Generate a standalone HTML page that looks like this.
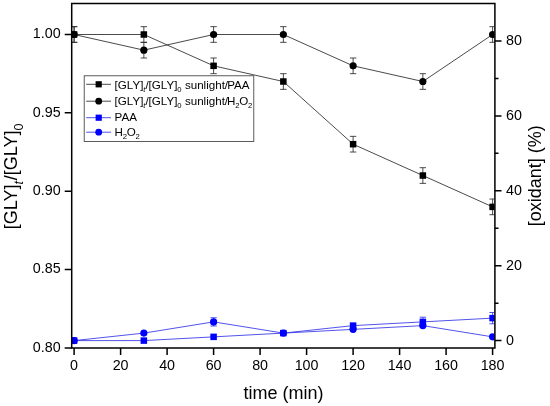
<!DOCTYPE html>
<html lang="en"><head><meta charset="utf-8"><title>Chart</title>
<style>html,body{margin:0;padding:0;background:#fff}body{width:550px;height:406px;overflow:hidden}</style></head>
<body>
<svg width="550" height="406" viewBox="0 0 550 406" style="display:block">
<rect width="550" height="406" fill="#fff"/>
<defs><clipPath id="c"><rect x="71.7" y="3.5" width="422.8" height="344.4"/></clipPath></defs>
<g clip-path="url(#c)">
<polyline points="74.10,340.60 143.85,340.60 213.60,336.86 283.35,333.11 353.10,325.62 422.85,321.88 492.60,318.13" fill="none" stroke="#3434e6" stroke-width="0.85"/>
<path d="M422.85,317.19V326.56M419.65,317.19H426.05M419.65,326.56H426.05" stroke="#3434e6" stroke-width="0.85" fill="none"/>
<path d="M492.60,312.51V323.75M489.40,312.51H495.80M489.40,323.75H495.80" stroke="#3434e6" stroke-width="0.85" fill="none"/>
<rect x="70.85" y="337.35" width="6.5" height="6.5" fill="#0000ff"/>
<rect x="140.60" y="337.35" width="6.5" height="6.5" fill="#0000ff"/>
<rect x="210.35" y="333.61" width="6.5" height="6.5" fill="#0000ff"/>
<rect x="280.10" y="329.86" width="6.5" height="6.5" fill="#0000ff"/>
<rect x="349.85" y="322.37" width="6.5" height="6.5" fill="#0000ff"/>
<rect x="419.60" y="318.62" width="6.5" height="6.5" fill="#0000ff"/>
<rect x="489.35" y="314.88" width="6.5" height="6.5" fill="#0000ff"/>
<polyline points="74.10,340.60 143.85,333.11 213.60,321.88 283.35,333.11 353.10,329.37 422.85,325.62 492.60,336.86" fill="none" stroke="#3434e6" stroke-width="0.85"/>
<path d="M213.60,317.76V325.99M210.40,317.76H216.80M210.40,325.99H216.80" stroke="#3434e6" stroke-width="0.85" fill="none"/>
<circle cx="74.10" cy="340.60" r="3.6" fill="#0000ff"/>
<circle cx="143.85" cy="333.11" r="3.6" fill="#0000ff"/>
<circle cx="213.60" cy="321.88" r="3.6" fill="#0000ff"/>
<circle cx="283.35" cy="333.11" r="3.6" fill="#0000ff"/>
<circle cx="353.10" cy="329.37" r="3.6" fill="#0000ff"/>
<circle cx="422.85" cy="325.62" r="3.6" fill="#0000ff"/>
<circle cx="492.60" cy="336.86" r="3.6" fill="#0000ff"/>
<polyline points="74.10,34.50 143.85,34.50 213.60,65.84 283.35,81.51 353.10,144.19 422.85,175.53 492.60,206.87" fill="none" stroke="#2a2a2a" stroke-width="0.85"/>
<path d="M74.10,26.67V42.34M70.90,26.67H77.30M70.90,42.34H77.30" stroke="#2a2a2a" stroke-width="0.85" fill="none"/>
<path d="M143.85,26.67V42.34M140.65,26.67H147.05M140.65,42.34H147.05" stroke="#2a2a2a" stroke-width="0.85" fill="none"/>
<path d="M213.60,58.01V73.68M210.40,58.01H216.80M210.40,73.68H216.80" stroke="#2a2a2a" stroke-width="0.85" fill="none"/>
<path d="M283.35,73.68V89.35M280.15,73.68H286.55M280.15,89.35H286.55" stroke="#2a2a2a" stroke-width="0.85" fill="none"/>
<path d="M353.10,136.35V152.02M349.90,136.35H356.30M349.90,152.02H356.30" stroke="#2a2a2a" stroke-width="0.85" fill="none"/>
<path d="M422.85,167.69V183.37M419.65,167.69H426.05M419.65,183.37H426.05" stroke="#2a2a2a" stroke-width="0.85" fill="none"/>
<path d="M492.60,199.04V214.71M489.40,199.04H495.80M489.40,214.71H495.80" stroke="#2a2a2a" stroke-width="0.85" fill="none"/>
<rect x="70.85" y="31.25" width="6.5" height="6.5" fill="#000"/>
<rect x="140.60" y="31.25" width="6.5" height="6.5" fill="#000"/>
<rect x="210.35" y="62.59" width="6.5" height="6.5" fill="#000"/>
<rect x="280.10" y="78.26" width="6.5" height="6.5" fill="#000"/>
<rect x="349.85" y="140.94" width="6.5" height="6.5" fill="#000"/>
<rect x="419.60" y="172.28" width="6.5" height="6.5" fill="#000"/>
<rect x="489.35" y="203.62" width="6.5" height="6.5" fill="#000"/>
<polyline points="74.10,34.50 143.85,50.17 213.60,34.50 283.35,34.50 353.10,65.84 422.85,81.51 492.60,34.50" fill="none" stroke="#2a2a2a" stroke-width="0.85"/>
<path d="M74.10,26.67V42.34M70.90,26.67H77.30M70.90,42.34H77.30" stroke="#2a2a2a" stroke-width="0.85" fill="none"/>
<path d="M143.85,42.34V58.01M140.65,42.34H147.05M140.65,58.01H147.05" stroke="#2a2a2a" stroke-width="0.85" fill="none"/>
<path d="M213.60,26.67V42.34M210.40,26.67H216.80M210.40,42.34H216.80" stroke="#2a2a2a" stroke-width="0.85" fill="none"/>
<path d="M283.35,26.67V42.34M280.15,26.67H286.55M280.15,42.34H286.55" stroke="#2a2a2a" stroke-width="0.85" fill="none"/>
<path d="M353.10,58.01V73.68M349.90,58.01H356.30M349.90,73.68H356.30" stroke="#2a2a2a" stroke-width="0.85" fill="none"/>
<path d="M422.85,73.68V89.35M419.65,73.68H426.05M419.65,89.35H426.05" stroke="#2a2a2a" stroke-width="0.85" fill="none"/>
<path d="M492.60,26.67V42.34M489.40,26.67H495.80M489.40,42.34H495.80" stroke="#2a2a2a" stroke-width="0.85" fill="none"/>
<circle cx="74.10" cy="34.50" r="3.6" fill="#000"/>
<circle cx="143.85" cy="50.17" r="3.6" fill="#000"/>
<circle cx="213.60" cy="34.50" r="3.6" fill="#000"/>
<circle cx="283.35" cy="34.50" r="3.6" fill="#000"/>
<circle cx="353.10" cy="65.84" r="3.6" fill="#000"/>
<circle cx="422.85" cy="81.51" r="3.6" fill="#000"/>
<circle cx="492.60" cy="34.50" r="3.6" fill="#000"/>
</g>
<path d="M71.7,3.5H494.9M71.7,347.9H494.9M71.7,2.75V348.65M494.9,2.75V348.65" stroke="#000" stroke-width="1.5" fill="none"/>
<path d="M74.10,347.9v7M120.60,347.9v7M167.10,347.9v7M213.60,347.9v7M260.10,347.9v7M306.60,347.9v7M353.10,347.9v7M399.60,347.9v7M446.10,347.9v7M492.60,347.9v7M71.7,347.90h-7M71.7,269.55h-7M71.7,191.20h-7M71.7,112.85h-7M71.7,34.50h-7M494.9,340.60h6.6M494.9,265.70h6.6M494.9,190.80h6.6M494.9,115.90h6.6M494.9,41.00h6.6M494.9,303.15h3.6M494.9,228.25h3.6M494.9,153.35h3.6M494.9,78.45h3.6" stroke="#000" stroke-width="1.5" fill="none"/>
<g font-family="Liberation Sans, Arial, sans-serif" font-size="14.3" fill="#000">
<text x="74.10" y="370.4" text-anchor="middle">0</text>
<text x="120.60" y="370.4" text-anchor="middle">20</text>
<text x="167.10" y="370.4" text-anchor="middle">40</text>
<text x="213.60" y="370.4" text-anchor="middle">60</text>
<text x="260.10" y="370.4" text-anchor="middle">80</text>
<text x="306.60" y="370.4" text-anchor="middle">100</text>
<text x="353.10" y="370.4" text-anchor="middle">120</text>
<text x="399.60" y="370.4" text-anchor="middle">140</text>
<text x="446.10" y="370.4" text-anchor="middle">160</text>
<text x="492.60" y="370.4" text-anchor="middle">180</text>
<text x="60.6" y="351.80" text-anchor="end">0.80</text>
<text x="60.6" y="273.45" text-anchor="end">0.85</text>
<text x="60.6" y="195.10" text-anchor="end">0.90</text>
<text x="60.6" y="116.75" text-anchor="end">0.95</text>
<text x="60.6" y="38.40" text-anchor="end">1.00</text>
<text x="506.1" y="344.60">0</text>
<text x="506.1" y="269.70">20</text>
<text x="506.1" y="194.80">40</text>
<text x="506.1" y="119.90">60</text>
<text x="506.1" y="45.00">80</text>
</g>
<g font-family="Liberation Sans, Arial, sans-serif" font-size="18" fill="#000">
<text x="283.5" y="399.2" text-anchor="middle">time (min)</text>
<text transform="translate(17.3,176.4) rotate(-90)" text-anchor="middle">[GLY]<tspan font-size="12.6" dy="5.7" font-style="italic">t</tspan><tspan dy="-5.7" dx="0.8">/[GLY]</tspan><tspan font-size="12.6" dy="5.7">0</tspan></text>
<text transform="translate(541.1,175.8) rotate(-90)" text-anchor="middle">[oxidant] (%)</text>
</g>
<rect x="84.2" y="75.8" width="169.6" height="65.6" fill="#fff" stroke="#333" stroke-width="0.8"/>
<path d="M86.2,84.3H111" stroke="#2a2a2a" stroke-width="0.85"/>
<rect x="95.60" y="81.20" width="6.2" height="6.2" fill="#000"/>
<path d="M86.2,101.2H111" stroke="#2a2a2a" stroke-width="0.85"/>
<circle cx="98.7" cy="101.2" r="3.4" fill="#000"/>
<path d="M86.2,117.7H111" stroke="#3434e6" stroke-width="0.85"/>
<rect x="95.60" y="114.60" width="6.2" height="6.2" fill="#0000ff"/>
<path d="M86.2,132.2H111" stroke="#3434e6" stroke-width="0.85"/>
<circle cx="98.7" cy="132.2" r="3.4" fill="#0000ff"/>
<g font-family="Liberation Sans, Arial, sans-serif" font-size="11.6" fill="#000">
<text y="88.7"><tspan x="114.6">[GLY]</tspan><tspan x="143.2" dy="3.2" font-size="7.7" font-style="italic">t</tspan><tspan x="145.4" dy="-3.2">/[GLY]</tspan><tspan x="177.2" dy="3.2" font-size="7.7">0</tspan><tspan x="181.7" dy="-3.2"> sunlight/</tspan><tspan x="227.2">PAA</tspan></text>
<text y="105.1"><tspan x="114.6">[GLY]</tspan><tspan x="143.2" dy="3.2" font-size="7.7" font-style="italic">t</tspan><tspan x="145.4" dy="-3.2">/[GLY]</tspan><tspan x="177.2" dy="3.2" font-size="7.7">0</tspan><tspan x="181.7" dy="-3.2"> sunlight/</tspan><tspan x="227.0">H</tspan><tspan x="235.2" dy="3.2" font-size="7.7">2</tspan><tspan x="239.2" dy="-3.2">O</tspan><tspan x="248.0" dy="3.2" font-size="7.7">2</tspan></text>
<text x="114.6" y="121.0">PAA</text>
<text y="136.0"><tspan x="114.6">H</tspan><tspan x="122.8" dy="3.2" font-size="7.7">2</tspan><tspan x="126.8" dy="-3.2">O</tspan><tspan x="135.6" dy="3.2" font-size="7.7">2</tspan></text>
</g>
</svg>
</body></html>
